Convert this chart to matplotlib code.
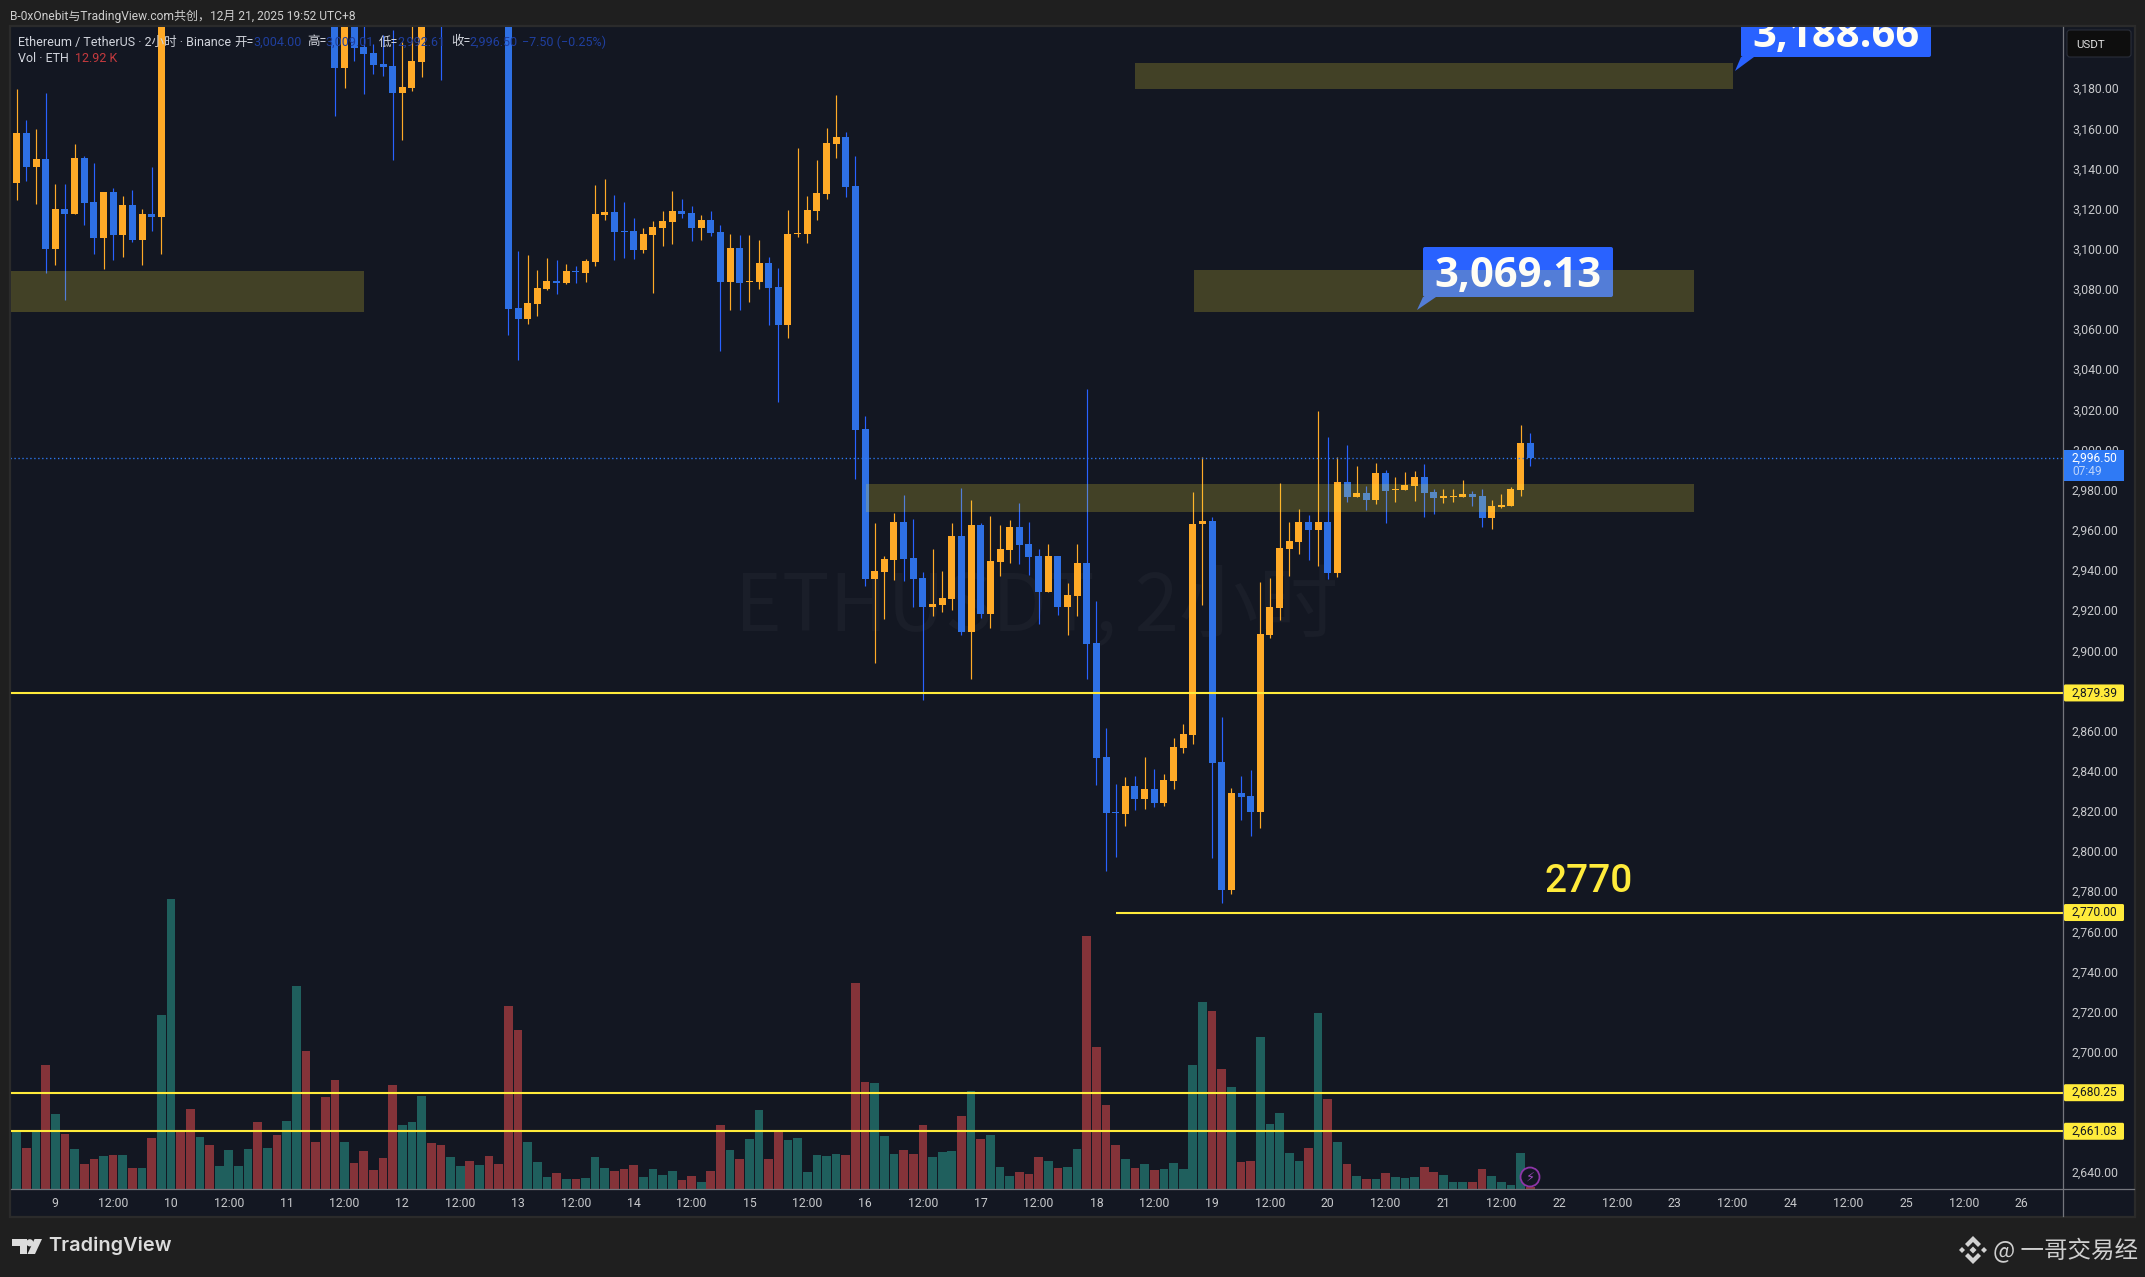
import numpy as np
import matplotlib
matplotlib.use('Agg')
import matplotlib.pyplot as plt
from matplotlib.lines import Line2D
from matplotlib.patches import Rectangle, FancyBboxPatch, Polygon, Circle
from matplotlib.transforms import Affine2D, ScaledTranslation

n = np.nan

# 2h bars, first bar is -5 (bar 0 = day 9 00:00). nan = bar above the visible range
bars = np.arange(-5, 154)
opens = [3130, 3133.6, 3158.4, 3141.6, 3145.4,
    3100.6, 3120.5, 3118, 3145.9, 3124, 3106.1, 3129, 3107.6, 3122.5, 3105.1, 3118, 3116.5,
    n, n, n, n, n, n, n, n, n, n, n, n, n, n, n, n, n,
    3225, 3190.7, 3225, 3201.2, 3198.2, 3192.7, 3191.7, 3178.3, 3180.8, 3193.7,
    n, 3230, n, n, n, n, n, n,
    3225, 3071.2, 3065.7, 3073.2, 3080.6, 3084.6, 3083.6, 3089.6, 3088.6, 3094.1,
    3117.5, 3119, 3109.5, 3109.5, 3100, 3107.5, 3111, 3114, 3119.5, 3118.5,
    3111, 3115, 3109, 3084.1, 3101, 3084.1, 3084.1, 3093.6, 3081.6, 3062.7,
    3108, 3108, 3119.5, 3127.9, 3152.8, 3156.3, 3131.9, 3010.9, 2936.2, 2939.7,
    2945.7, 2964.6, 2946.7, 2936.7, 2922.3, 2923.3, 2926.3, 2957.6, 2909.8, 2963.1,
    2918.8, 2944.7, 2950.7, 2962.1, 2953.6, 2947.7, 2929.7, 2947.7, 2922.3, 2927.8,
    2944.2, 2904.3, 2847.6, 2820.2, 2819.2, 2833.1, 2826.7, 2831.6, 2824.7, 2835.6,
    2852, 2858.5, 2963.6, 2965.1, 2845.1, 2781.3, 2829.6, 2828.2, 2820.2, 2908.3,
    2921.8, 2951.2, 2954.6, 2964.6, 2960.6, 2964.6, 2939.2, 2984.5, 2977, 2979,
    2975.6, 2989, 2980.6, 2980.6, 2982.5, 2987, 2979.6, 2976.5, 2977, 2977,
    2978.5, 2977.5, 2966.5, 2972, 2972.5, 2980.6, 3004]
highs = [3134.5, 3180.3, 3164.8, 3160.4, 3178.3,
    3133, 3133, 3152.9, 3146.9, 3143.4, 3129, 3131, 3127, 3130, 3120.5, 3141.4, 3240,
    n, n, n, n, n, n, n, n, n, n, n, n, n, n, n, n, n,
    3240, 3240, 3240, 3212, 3202.7, 3207.2, 3209.7, 3203.7, 3215, 3240,
    n, 3240, n, n, n, n, n, n,
    3240, 3099.5, 3097.5, 3090.1, 3096, 3095, 3093.1, 3092.1, 3095.5, 3132.4,
    3135.4, 3127.4, 3123.9, 3116, 3111, 3114.5, 3119.5, 3129.4, 3125.4, 3122,
    3117.5, 3119.5, 3112.5, 3108, 3107.5, 3107.5, 3105, 3096.5, 3091.1, 3120,
    3150.8, 3126.9, 3144.9, 3160.8, 3177.2, 3158.8, 3146.9, 3017.6, 2964.1, 2947.7,
    2969.1, 2978, 2966.1, 2939.7, 2951.2, 2940.2, 2964.1, 2981.5, 2975.6, 2964.1,
    2967.6, 2963.1, 2965.6, 2974.1, 2964.6, 2951.2, 2953.6, 2947.7, 2934.2, 2953.6,
    3030.8, 2925.3, 2862, 2834.1, 2837.6, 2838.1, 2847.6, 2841.6, 2839.1, 2857,
    2864, 2979.5, 2997, 2967.1, 2867.5, 2832.1, 2838.1, 2841.1, 2934.7, 2936.7,
    2984, 2964.6, 2971.1, 2968.1, 3019.9, 3006.9, 2997, 3003, 2992.4, 2982.5,
    2994, 2990.4, 2987, 2989.5, 2990, 2993.5, 2980.8, 2981, 2981, 2985.6,
    2980, 2981, 2975.6, 2978.5, 2982, 3012.8, 3009]
lows = [3129.5, 3125, 3134.5, 3123, 3088.8,
    3092.6, 3075.2, 3118, 3112.6, 3098.1, 3090.6, 3095.1, 3096.6, 3104, 3092.6, 3109.6, 3098,
    n, n, n, n, n, n, n, n, n, n, n, n, n, n, n, n, n,
    3166.8, 3180.8, 3194.2, 3177.8, 3187.7, 3186.8, 3144.9, 3154.9, 3179.3, 3186.3,
    n, 3184.8, n, n, n, n, n, n,
    3057.7, 3045.3, 3063.2, 3067.2, 3080.1, 3078.1, 3083.1, 3083.6, 3084.1, 3092.1,
    3115, 3095.1, 3096, 3095.6, 3098.5, 3078.6, 3102, 3103, 3116, 3104.5,
    3105, 3107, 3049.7, 3070.2, 3070.2, 3074.1, 3080.6, 3062.7, 3024.3, 3056.2,
    3106.5, 3103.5, 3115, 3125.4, 3145.9, 3126.4, 2986, 2932.7, 2894.4, 2916.3,
    2935.7, 2935.2, 2922.3, 2875.9, 2917.8, 2919.8, 2920.8, 2908.3, 2886.4, 2916.8,
    2911.8, 2937.7, 2944.2, 2943.7, 2938.2, 2913.8, 2929.7, 2918.3, 2908.3, 2917.8,
    2886.4, 2833.6, 2790.8, 2797.8, 2813.2, 2821.2, 2821.7, 2822.7, 2823.2, 2831.6,
    2849.6, 2854, 2923.3, 2797.3, 2774.9, 2779.3, 2816.2, 2808.2, 2812.2, 2906.8,
    2915.8, 2937.7, 2948.7, 2945.7, 2942.7, 2936.2, 2937.2, 2974.6, 2977, 2970.6,
    2973.6, 2964.1, 2974.6, 2980.6, 2975.1, 2967, 2968.6, 2974, 2974.6, 2977,
    2972.5, 2962, 2961, 2971.5, 2972.5, 2977.5, 2992.61]
closes = [3134, 3158.4, 3141.6, 3145.4, 3100.6,
    3120.5, 3118, 3145.9, 3123.5, 3106.1, 3129, 3107.6, 3122.5, 3105.1, 3118, 3116.5, 3232,
    n, n, n, n, n, n, n, n, n, n, n, n, n, n, n, n, n,
    3190.7, 3230, 3200.7, 3197.7, 3192.2, 3191.2, 3178.3, 3181.3, 3194.2, 3225,
    n, 3225, n, n, n, n, n, n,
    3070.7, 3065.7, 3073.6, 3081.1, 3084.6, 3083.6, 3089.6, 3089.1, 3094.6, 3118,
    3119, 3109, 3109, 3100, 3108, 3111.5, 3114.5, 3119.5, 3118, 3111,
    3115, 3108.5, 3084.1, 3101, 3083.6, 3084.6, 3093.6, 3081.1, 3062.7, 3108,
    3108.5, 3120, 3128.4, 3153.3, 3156.3, 3131.4, 3010.4, 2936.2, 2940.2, 2946.2,
    2964.6, 2946.2, 2936.2, 2922.3, 2923.8, 2926.8, 2957.6, 2909.8, 2963.1, 2918.8,
    2945.2, 2951.2, 2962.1, 2953.2, 2947.2, 2929.7, 2947.7, 2922.3, 2928.3, 2944.2,
    2903.8, 2847.1, 2819.7, 2819.7, 2833.1, 2826.7, 2831.6, 2824.7, 2836.1, 2852.6,
    2859, 2963.6, 2965.1, 2844.6, 2781.3, 2829.6, 2827.7, 2820.2, 2908.8, 2922.3,
    2951.7, 2955.1, 2964.6, 2960.6, 2964.6, 2939.2, 2984.5, 2977, 2979, 2975.6,
    2989, 2980.1, 2981, 2983, 2987, 2979, 2976.5, 2977.5, 2977.5, 2978.5,
    2977, 2966.5, 2972.5, 2973, 2981, 3003.9, 2996.5]

# volume in thousands of ETH, same bars
volumes = [360, 342, 248, 342, 746,
    452, 332, 242, 152, 182, 200, 206, 206, 128, 128, 308, 1046, 1742, 356, 482,
    314, 266, 140, 236, 140, 242, 404, 248, 326, 410, 1220, 830, 284, 554, 656,
    284, 158, 230, 116, 188, 626, 386, 404, 560, 278, 266, 194, 140, 170, 146,
    200, 152, 1100, 956, 284, 164, 74, 98, 62, 62, 68, 194, 128, 110, 122,
    146, 74, 122, 86, 110, 56, 80, 44, 110, 386, 236, 182, 302, 476, 182,
    342, 296, 308, 104, 206, 200, 212, 206, 1238, 644, 638, 320, 212, 236, 212,
    386, 194, 224, 230, 440, 590, 302, 326, 134, 80, 104, 92, 194, 170, 128,
    134, 242, 1520, 854, 506, 266, 182, 128, 152, 116, 122, 158, 122, 746, 1124,
    1070, 722, 614, 164, 170, 914, 392, 458, 218, 170, 248, 1058, 542, 284, 152,
    80, 62, 62, 98, 74, 68, 74, 134, 104, 86, 44, 44, 44, 122, 80, 44, 26, 218, 12.92]
vol_up = [1, 1, 0, 1, 0,
    1, 0, 1, 0, 0, 1, 0, 1, 0, 1, 0, 1, 1, 0, 0,
    1, 0, 1, 1, 1, 1, 0, 1, 0, 1, 1, 0, 0, 0, 0,
    1, 0, 0, 0, 0, 0, 1, 1, 1, 0, 0, 1, 1, 0, 1,
    0, 0, 0, 0, 1, 1, 1, 0, 1, 0, 1, 1, 1, 0, 0,
    0, 1, 1, 1, 1, 0, 0, 1, 0, 0, 1, 0, 1, 1, 0,
    0, 1, 1, 1, 1, 1, 1, 0, 0, 0, 1, 1, 1, 0, 0,
    0, 1, 1, 1, 0, 1, 0, 1, 1, 1, 0, 0, 0, 1, 0,
    1, 1, 0, 0, 0, 0, 1, 0, 1, 0, 1, 1, 1, 1, 1,
    0, 0, 1, 0, 0, 1, 1, 1, 1, 1, 0, 1, 0, 1, 0,
    1, 0, 1, 0, 1, 1, 1, 0, 0, 1, 1, 1, 0, 0, 1, 1, 1, 1, 0]

price_ticks = list(range(2640, 3181, 20))
day_labels = [str(d) for d in range(9, 27)]

# supply/demand boxes: bar from, bar to, price low, price high
zone_from = [-4.65, 112, 118.1, 84.1]
zone_to = [32, 174, 170, 170]
zone_low = [3069.2, 3180.2, 3069, 2969.6]
zone_high = [3089.6, 3193.2, 3090, 2983.5]

line_prices = [2879.39, 2770.00, 2680.25, 2661.03]
line_from = [-4.65, 110, -4.65, -4.65]
last_price = 2996.50

W, H = 2145, 1277
LEFT, RIGHT, TOP, BOTTOM, PANEL_R, PANEL_B = 10.5, 2063.3, 27, 1189.3, 2134, 1216
BG = '#131722'
ORANGE, BLUE = '#ffaa27', '#2e70e4'
YEL = '#ffeb3b'
FONT = ['Roboto', 'Noto Sans CJK SC', 'DejaVu Sans']
plt.rcParams['font.family'] = FONT

fig = plt.figure(figsize=(W / 100, H / 100), dpi=100, facecolor='#1f1f1f')
px_tr = Affine2D().scale(1, -1).translate(0, H)  # pixels from top left

rect = [LEFT / W, 1 - BOTTOM / H, (RIGHT - LEFT) / W, (BOTTOM - TOP) / H]
vol = fig.add_axes(rect, zorder=1)
ax = fig.add_axes(rect, zorder=2, sharex=vol)
ax.patch.set_visible(False)
vol.patch.set_visible(False)

fig.add_artist(Rectangle((LEFT - 1, TOP - 1), PANEL_R - LEFT + 2, PANEL_B - TOP + 2, transform=px_tr,
                         facecolor=BG, edgecolor='#2b2b2b', lw=1.6, zorder=0))

x_left = (LEFT - 55.3) / 9.64
x_right = (RIGHT - 55.3) / 9.64
ax.set_xlim(x_left, x_right)
ax.set_ylim(3180 - (BOTTOM - 89.5) / 2.0074, 3180 + (89.5 - TOP) / 2.0074)
vol.set_ylim(0, (BOTTOM - TOP) * 6)

def py(p):
    return 89.5 + (3180 - p) * 2.0074

# volume
vol_colors = ['#1f5f5d' if u else '#843339' for u in vol_up]
vol.bar(bars, volumes, width=0.9, color=vol_colors, linewidth=0)
vol.set_yticks([])
vol.tick_params(bottom=False, labelbottom=False)
for s in vol.spines.values():
    s.set_visible(False)

vol.text(1037, 608, 'ETHUSDT, 2小时', transform=px_tr, fontsize=57.3, color='#1a1e29', ha='center', va='center',
         family=['Noto Sans CJK SC', 'DejaVu Sans'], zorder=0.5)

# candles
o = np.array(opens, float)
h = np.array(highs, float)
l = np.array(lows, float)
c = np.array(closes, float)
ok = ~np.isnan(o)
up = c >= o
ax.vlines(bars[ok & up], l[ok & up], h[ok & up], color=ORANGE, lw=0.85, zorder=2)
ax.vlines(bars[ok & ~up], l[ok & ~up], h[ok & ~up], color='#2962ff', lw=0.85, zorder=2)
body = np.maximum(np.abs(c - o), 0.6)
ax.bar(bars[ok & up], body[ok & up], bottom=np.minimum(o, c)[ok & up], width=0.73, color=ORANGE, linewidth=0, zorder=3)
ax.bar(bars[ok & ~up], body[ok & ~up], bottom=np.minimum(o, c)[ok & ~up], width=0.73, color=BLUE, linewidth=0, zorder=3)

# callouts, the boxes sit on top of them
for x0, y0, x1, y1, tip, tail, label, tx, ty in [
        (1741, 10, 1931, 57, (1735, 71), (1741, 57, 1754, 57), '3,188.66', 1836, 37),
        (1423, 247, 1613, 297, (1417, 310), (1423, 297, 1436, 297), '3,069.13', 1518, 276)]:
    ax.add_patch(Polygon([(tail[0], tail[1]), tip, (tail[2], tail[3])], transform=px_tr, facecolor='#2962ff',
                         edgecolor='none', zorder=4))
    ax.add_patch(FancyBboxPatch((x0, y0), x1 - x0, y1 - y0, boxstyle='round,pad=0,rounding_size=2', transform=px_tr,
                                facecolor='#2962ff', edgecolor='none', zorder=4))
    ax.text(tx, ty, label, transform=px_tr, fontsize=30, color='#fffdf5', ha='center', va='center', weight='bold',
            family='Open Sans', zorder=6, clip_on=True)

for a, b, lo, hi in zip(zone_from, zone_to, zone_low, zone_high):
    ax.add_patch(Rectangle((a, lo), b - a, hi - lo, facecolor=YEL, alpha=0.2, edgecolor='none', zorder=5))

for p, a in zip(line_prices, line_from):
    ax.plot([a, x_right], [p, p], color=YEL, lw=1.5, zorder=6, solid_capstyle='butt')
ax.plot([x_left, x_right], [last_price, last_price], color='#2e7bf6', lw=0.95, ls=(0, (1, 2)), zorder=6)

ax.text(1589, 881, '2770', transform=px_tr, fontsize=28, color=YEL, ha='center', va='center', weight='medium', zorder=7)

# axes
day_pos = [12 * i for i in range(len(day_labels))]
noon_pos = [12 * i + 6 for i in range(len(day_labels) - 1)]
ax.set_xticks(sorted(day_pos + noon_pos))
ax.set_xticklabels([day_labels[i // 2] if i % 2 == 0 else '12:00' for i in range(len(day_pos) + len(noon_pos))])
ax.set_yticks(price_ticks)
ax.set_yticklabels([f'{p:,.2f}' for p in price_ticks])
ax.yaxis.tick_right()
ax.tick_params(axis='both', length=0, labelsize=8.8, labelcolor='#c8c9cc')
ax.tick_params(axis='y', pad=6.2)
ax.tick_params(axis='x', pad=5.6)
for s in ax.spines.values():
    s.set_visible(False)
up_shift = ScaledTranslation(0, 0.013, fig.dpi_scale_trans)
for lab in ax.get_yticklabels():
    lab.set_transform(lab.get_transform() + up_shift)

fig.add_artist(Line2D([RIGHT, RIGHT], [TOP, PANEL_B], transform=px_tr, color='#74767d', lw=0.9, zorder=3))
fig.add_artist(Line2D([LEFT, PANEL_R], [BOTTOM, BOTTOM], transform=px_tr, color='#74767d', lw=0.9, zorder=3))

def txt(x, y, s, size=12, color='#d1d4dc', ha='left', **kw):
    kw.setdefault('family', FONT)
    fig.text(x, y, s, transform=px_tr, fontsize=size * 0.72, color=color, ha=ha, va='center', zorder=8, **kw)

# price tags
for p in line_prices:
    y = py(p)
    fig.add_artist(FancyBboxPatch((2064, y - 8.5), 60, 17, boxstyle='round,pad=0,rounding_size=1.5', transform=px_tr,
                                  facecolor=YEL, edgecolor='none', zorder=6))
    txt(2072, y, f'{p:,.2f}', color='#131722')
fig.add_artist(Rectangle((2064, 450), 60, 31, transform=px_tr, facecolor='#2f7af5', edgecolor='none', zorder=6))
txt(2072, 458, f'{last_price:,.2f}', color='white')
txt(2072, 471.5, '07:49', color='#bcd3fb')

fig.add_artist(FancyBboxPatch((2067, 30), 64, 27, boxstyle='round,pad=0,rounding_size=3', transform=px_tr,
                              facecolor='#0e0e0e', edgecolor='#2a2e39', lw=0.8, zorder=6))
txt(2076, 44.5, 'USDT', color='#dddddd', size=11.5)

# header and legend
txt(10, 16, 'B-0xOnebit与TradingView.com共创，12月 21, 2025 19:52 UTC+8', size=12, color='#cfcfcf')
txt(18, 42, 'Ethereum / TetherUS · 2小时 · Binance', size=12.5)
dim = '#1f3f9f'
for lx, lab, vx, val in [(234, '开=', 253, '3,004.00'), (307, '高=', 325, '3,009.01'),
                         (379, '低=', 397, '2,992.61'), (451, '收=', 469, '2,996.50')]:
    txt(lx, 42, lab, size=12.5)
    txt(vx, 42, val, size=12.5, color=dim)
txt(522, 42, '−7.50 (−0.25%)', size=12.5, color=dim)
txt(18, 59, 'Vol · ETH', size=12.5)
txt(75, 59, '12.92 K', size=12.5, color='#c43a3e')

# bolt marker
fig.add_artist(Circle((1530, 1177), 9.5, transform=px_tr, facecolor=BG, edgecolor='#8e35a8', lw=1.3, zorder=6))
txt(1530, 1177, '⚡', size=13, color='#a04ac0', ha='center', family='DejaVu Sans')

# footer
logo = '#dcdcdc'
fig.add_artist(Polygon([(12, 1239), (26.5, 1239), (26.5, 1254), (20, 1254), (20, 1246), (12, 1246)], transform=px_tr,
                       facecolor=logo, edgecolor='none', zorder=6))
fig.add_artist(Circle((29.8, 1242.8), 3.6, transform=px_tr, facecolor=logo, edgecolor='none', zorder=6))
fig.add_artist(Polygon([(34.5, 1239), (42, 1239), (35, 1254), (27.5, 1254)], transform=px_tr, facecolor=logo,
                       edgecolor='none', zorder=6))
txt(48.5, 1246, 'TradingView', size=20, color=logo, family='Inter', weight='semibold')

binance = '#d2d2d2'
fig.add_artist(Polygon([(1973, 1236), (1981, 1244), (1978, 1247), (1973, 1242), (1968, 1247), (1965, 1244)],
                       transform=px_tr, facecolor=binance, edgecolor='none', zorder=6))
fig.add_artist(Polygon([(1973, 1264), (1981, 1256), (1978, 1253), (1973, 1258), (1968, 1253), (1965, 1256)],
                       transform=px_tr, facecolor=binance, edgecolor='none', zorder=6))
for cx, r in [(1962, 3), (1984, 3), (1973, 3.5)]:
    fig.add_artist(Polygon([(cx - r, 1250), (cx, 1250 - r), (cx + r, 1250), (cx, 1250 + r)], transform=px_tr,
                           facecolor=binance, edgecolor='none', zorder=6))
txt(1993, 1251, '@ 一哥交易经', size=23.5, color='#cfcfcf', family=['Noto Sans CJK SC', 'DejaVu Sans'])

fig.savefig('out.png', dpi=100, facecolor=fig.get_facecolor())
